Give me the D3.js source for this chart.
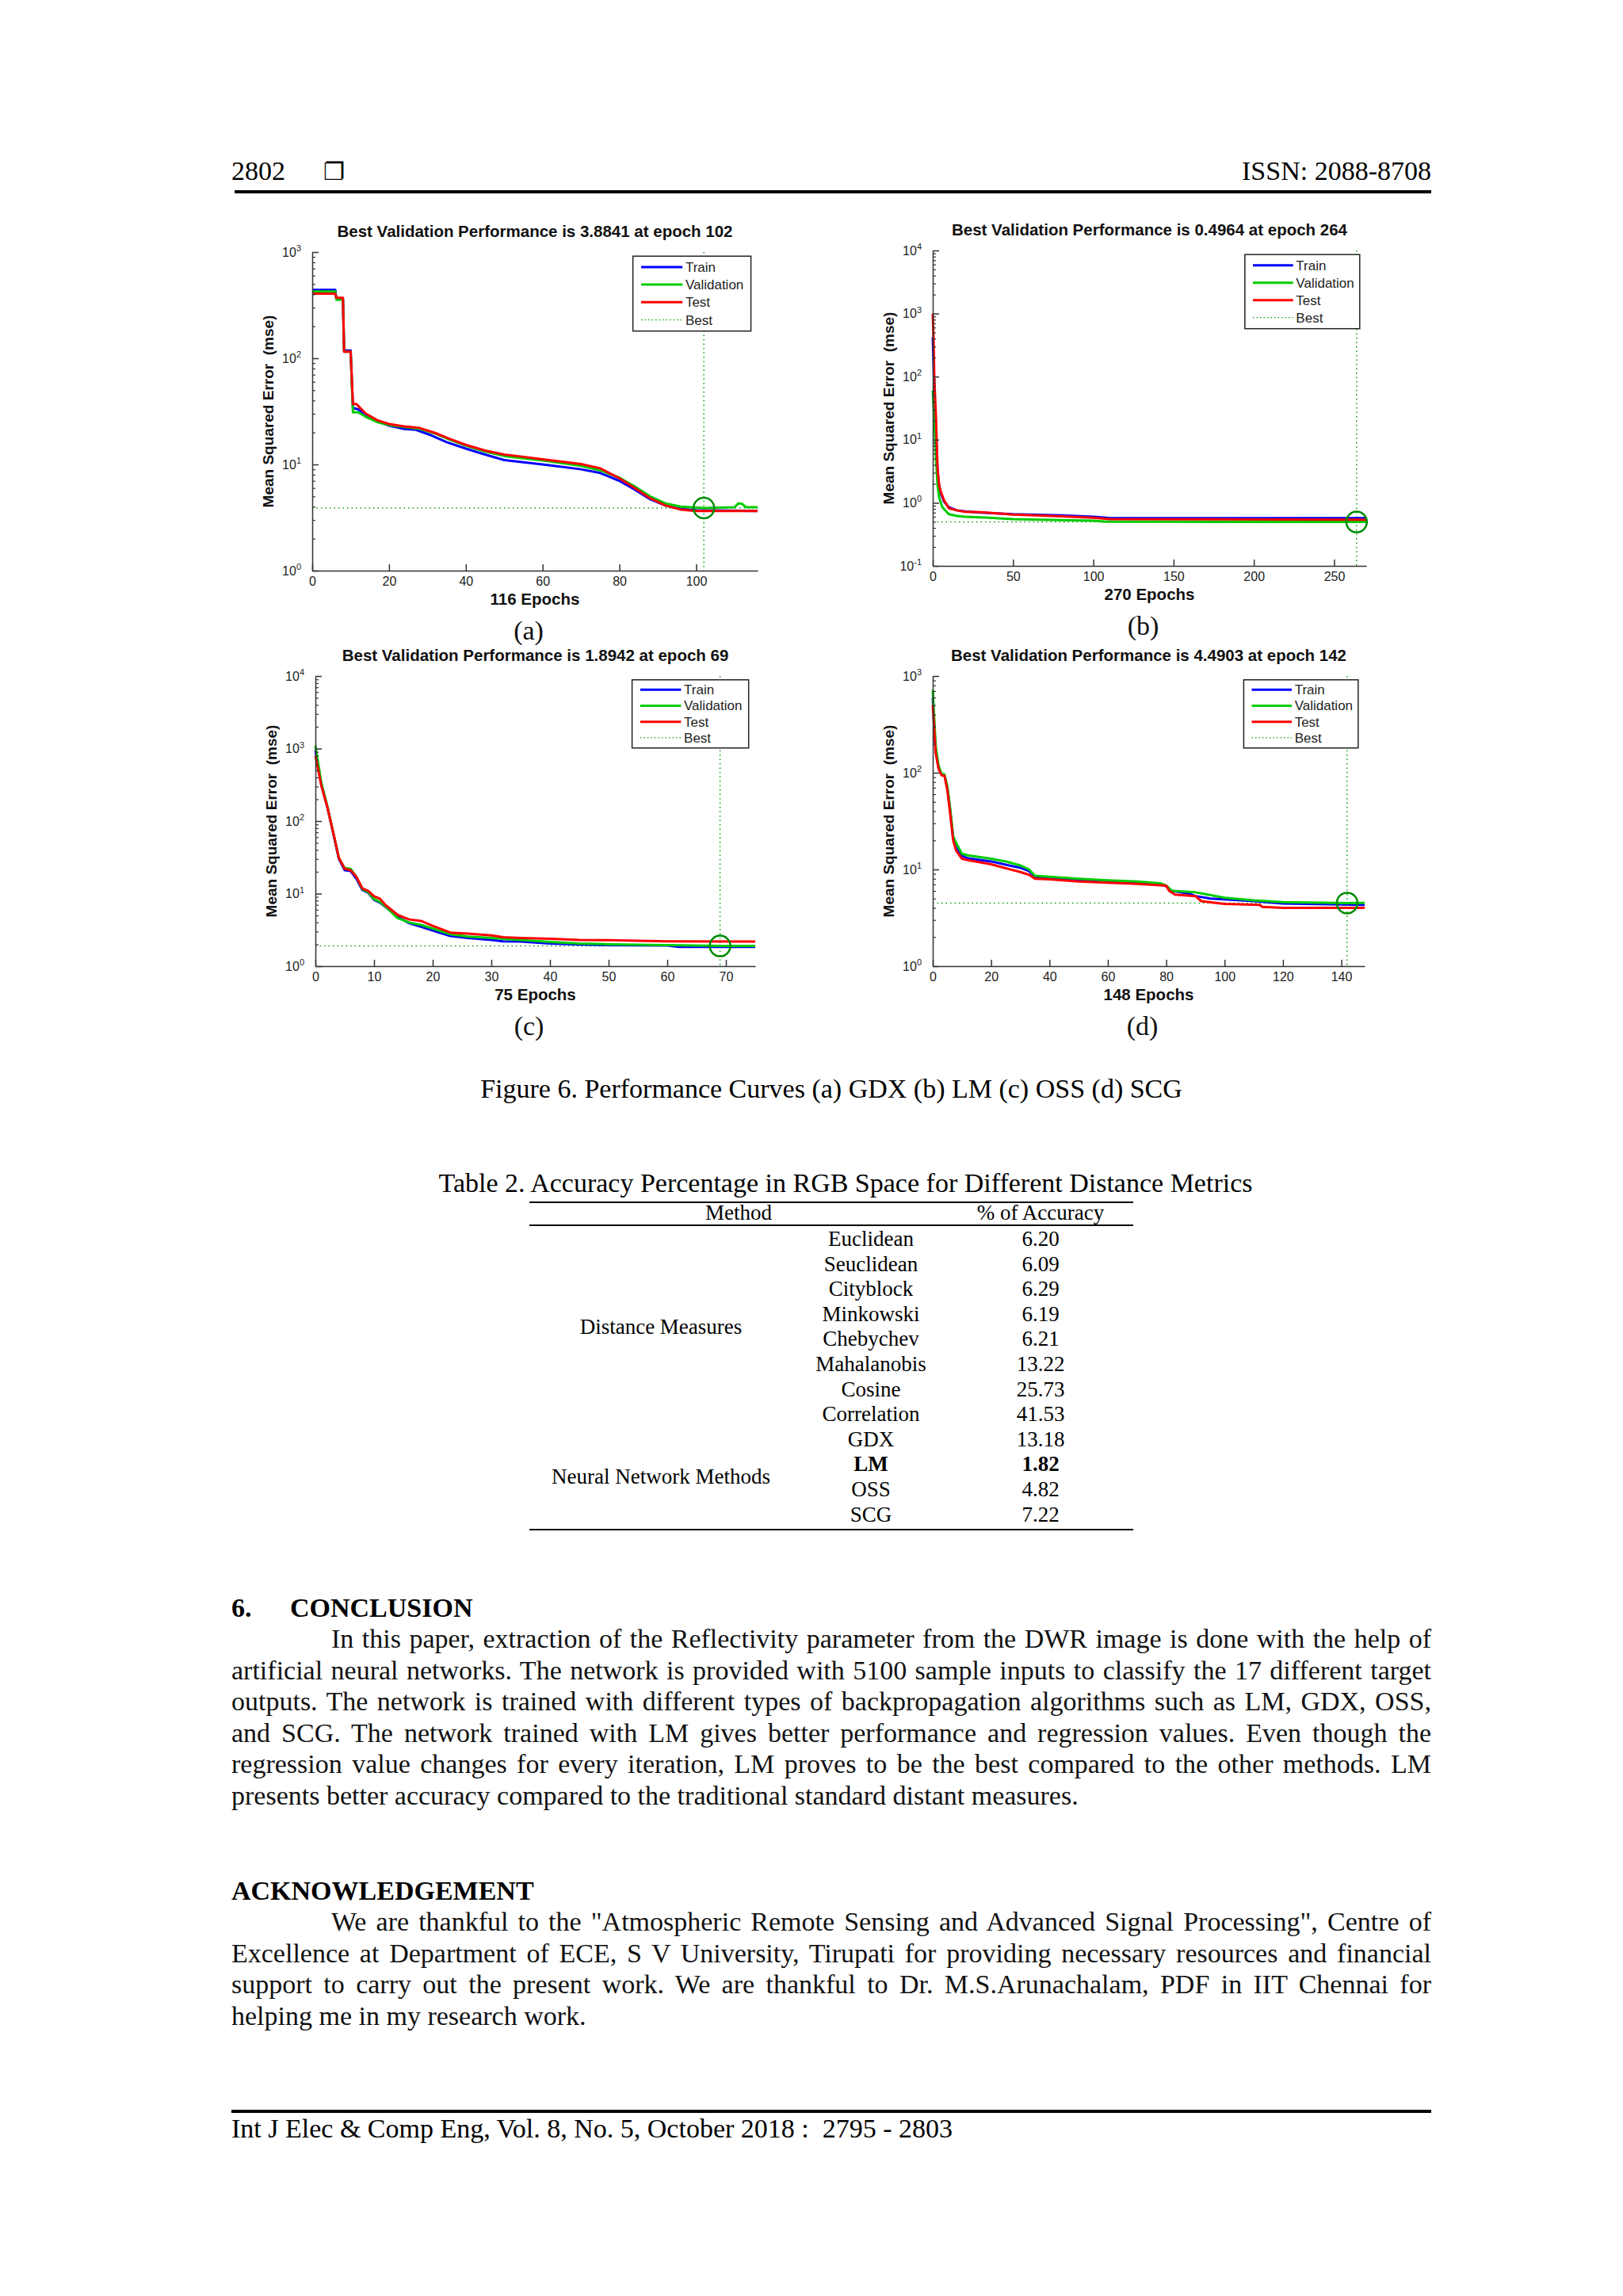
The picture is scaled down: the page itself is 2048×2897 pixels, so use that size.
<!doctype html>
<html lang="en">
<head>
<meta charset="utf-8">
<title>Figure 6 - Performance Curves</title>
<script src="https://d3js.org/d3.v7.min.js"></script>
<style>
  body { margin: 0; background: #fff; }
  #page { position: relative; width: 2048px; height: 2897px; background: #fff; overflow: hidden; }
  #page svg { position: absolute; left: 0; top: 0; }
  .line { position: absolute; font-family: 'Liberation Serif', 'Times New Roman', serif; font-size: 34px; line-height: 40px; white-space: nowrap; color: #111; }
</style>
</head>
<body>
<div id="page"></div>
<script>
// ---- data ----
// panel (a) GDX
const gdxTrain = [[0,440],[6,440],[6.3,360],[8,360],[8.3,118],[10,118],[10.6,34],[12,33],[14,29],[17,25.5],[20,23.2],[24,21.6],[27,21.2],[31,18.8],[35,16.2],[40,14.1],[45,12.4],[50,11.0],[55,10.5],[60,10.0],[65,9.5],[70,9.0],[75,8.3],[80,7.0],[84,5.8],[88,4.7],[92,4.1],[96,3.8],[100,3.7],[116,3.65]];
const gdxVal = [[0,425],[6,425],[6.3,355],[8,355],[8.3,115],[10,115],[10.6,31],[12,31],[14,28],[17,25],[20,23.5],[24,22.5],[28,21.6],[32,19.5],[36,17],[40,15],[45,13.2],[50,12.0],[55,11.4],[60,10.9],[65,10.3],[70,9.7],[75,8.8],[80,7.5],[84,6.2],[88,5.0],[92,4.3],[96,4.0],[102,3.884],[110,3.95],[111,4.3],[112,4.25],[113,3.95],[116,3.95]];
const gdxTest = [[0,405],[6,405],[6.3,370],[8,370],[8.3,115],[10,115],[10.6,37],[11.5,37],[14,30],[17,26],[20,24],[24,22.8],[28,22],[32,19.8],[36,17.3],[40,15.3],[45,13.5],[50,12.4],[55,11.8],[60,11.2],[65,10.6],[70,10.1],[75,9.2],[80,7.4],[84,6.0],[88,4.8],[92,4.1],[96,3.75],[100,3.65],[116,3.65]];
// panel (b) LM
const lmTrain = [[0,420],[1,60],[2,12],[3,3.2],[4,1.8],[5,1.4],[7,1.05],[10,0.85],[15,0.76],[20,0.73],[30,0.70],[50,0.66],[80,0.63],[100,0.6],[108,0.58],[110,0.57],[270,0.57]];
const lmVal = [[0,60],[1,20],[2,5],[3,1.9],[4,1.2],[6,0.85],[10,0.66],[15,0.62],[20,0.6],[35,0.58],[50,0.55],[80,0.53],[100,0.52],[108,0.5],[150,0.5],[264,0.4964],[270,0.4964]];
const lmTest = [[0,1000],[0.5,400],[1,90],[2,23],[3,3.5],[4,1.9],[5,1.5],[7,1.1],[10,0.82],[15,0.76],[20,0.72],[30,0.71],[50,0.65],[80,0.61],[100,0.58],[110,0.55],[270,0.54]];
// panel (c) OSS
const ossTrain = [[0,950],[1,320],[2,160],[3,70],[4,30],[5,21],[6,20.5],[7,16],[8,11.2],[9,10.3],[10,8.2],[11,7.5],[12,6.5],[14,4.8],[16,3.9],[18,3.5],[20,3.1],[23,2.6],[26,2.45],[30,2.3],[32,2.2],[35,2.18],[40,2.05],[45,1.98],[50,1.95],[60,1.92],[62,1.84],[75,1.84]];
const ossVal = [[0,1100],[1,340],[2,165],[3,72],[4,31],[5,22.5],[6,22],[7,17],[8,11.5],[9,10.5],[10,8.4],[11,7.7],[12,6.6],[14,4.6],[16,4.0],[18,3.7],[20,3.3],[23,2.75],[26,2.55],[30,2.45],[35,2.3],[40,2.15],[45,2.05],[50,2.0],[60,1.95],[69,1.894],[75,1.9]];
const ossTest = [[0,800],[1,310],[2,160],[3,72],[4,31],[5,22],[6,21],[7,17],[8,11.8],[9,10.9],[10,9.2],[11,8.5],[12,6.9],[14,5.1],[16,4.4],[18,4.2],[20,3.6],[23,2.9],[26,2.8],[30,2.65],[32,2.5],[35,2.45],[40,2.38],[45,2.3],[50,2.28],[60,2.2],[75,2.18]];
// panel (d) SCG
const scgTrain = [[0,600],[1,170],[2,112],[3,96],[4,95],[5,70],[6,40],[7,21],[8,17],[10,13.8],[12,13],[20,12.1],[25,11.2],[30,10.4],[33,9.6],[35,8.4],[40,8.1],[50,7.8],[60,7.5],[70,7.3],[78,7],[80,6.7],[82,6.0],[88,5.6],[90,5.3],[95,5.0],[100,4.9],[110,4.7],[120,4.45],[148,4.3]];
const scgVal = [[0,720],[1,190],[2,118],[3,98],[4,96],[5,72],[6,42],[7,22],[8,18.8],[10,14.5],[12,14],[20,12.9],[25,12.1],[30,11],[33,10],[35,8.6],[40,8.4],[50,8.0],[60,7.7],[70,7.5],[78,7.2],[80,6.8],[82,6.0],[90,5.8],[100,5.1],[110,4.8],[120,4.6],[142,4.49],[148,4.5]];
const scgTest = [[0,500],[1,160],[2,110],[3,94],[4,93],[5,66],[6,37],[7,20],[8,15.6],[10,12.9],[12,12.5],[20,11.3],[25,10.3],[30,9.4],[33,8.8],[35,8.0],[40,7.9],[50,7.5],[60,7.3],[70,7.1],[80,6.8],[81,6.0],[83,5.5],[90,5.3],[92,4.7],[97,4.5],[100,4.4],[112,4.3],[113,4.1],[120,4.0],[148,4.0]];

const bestEpoch = [102, 264, 69, 142];
const bestValue = [3.8841, 0.4964, 1.8942, 4.4903];
const epochCount = [116, 270, 75, 148];
const xTickSets = [[0,20,40,60,80,100],[0,50,100,150,200,250],[0,10,20,30,40,50,60,70],[0,20,40,60,80,100,120,140]];
const yDomains = [[1,1000],[0.1,10000],[1,10000],[1,1000]];
const subLabels = ["(a)", "(b)", "(c)", "(d)"];
const legendNames = ["Train", "Validation", "Test", "Best"];

// Table 2
const tableMethods = ["Euclidean","Seuclidean","Cityblock","Minkowski","Chebychev","Mahalanobis","Cosine","Correlation","GDX","LM","OSS","SCG"];
const tableAccuracy = ["6.20","6.09","6.29","6.19","6.21","13.22","25.73","41.53","13.18","1.82","4.82","7.22"];
const tableGroups = ["Distance Measures", "Neural Network Methods"];

const conclusionLines = [
  "In this paper, extraction of the Reflectivity parameter from the DWR image is done with the help of",
  "artificial neural networks. The network is provided with 5100 sample inputs to classify the 17 different target",
  "outputs. The network is trained with different types of backpropagation algorithms such as LM, GDX, OSS,",
  "and SCG. The network trained with LM gives better performance and regression values. Even though the",
  "regression value changes for every iteration, LM proves to be the best compared to the other methods. LM",
  "presents better accuracy compared to the traditional standard distant measures."
];
const ackLines = [
  "We are thankful to the \"Atmospheric Remote Sensing and Advanced Signal Processing\", Centre of",
  "Excellence at Department of ECE, S V University, Tirupati for providing necessary resources and financial",
  "support to carry out the present work. We are thankful to Dr. M.S.Arunachalam, PDF in IIT Chennai for",
  "helping me in my research work."
];

// ---- layout ----
const W = 2048, H = 2897;
const textL = 292, textR = 1806;
const serif = "'Liberation Serif', 'Times New Roman', serif";
const sans = "'Liberation Sans', Arial, Helvetica, sans-serif";
const colors = ["#0000ff", "#00cc00", "#ff0000"];
const bestColor = "#00a000";

const page = d3.select("#page");
const svg = page.append("svg").attr("width", W).attr("height", H);

// header
svg.append("text").attr("x", textL).attr("y", 227).attr("font-family", serif).attr("font-size", 34).text("2802");
svg.append("text").attr("x", 408).attr("y", 227).attr("font-family", "'DejaVu Sans', sans-serif").attr("font-size", 30).text("\u2750");
svg.append("text").attr("x", textR).attr("y", 227).attr("text-anchor", "end").attr("font-family", serif).attr("font-size", 34).text("ISSN: 2088-8708");
svg.append("line").attr("x1", 296).attr("x2", textR).attr("y1", 242).attr("y2", 242).attr("stroke", "#000").attr("stroke-width", 4);

const panels = [
  { x0: 394, y0: 318, w: 562, h: 402, series: [gdxTrain, gdxVal, gdxTest], title: "Best Validation Performance is 3.8841 at epoch 102" },
  { x0: 1177, y0: 316, w: 547, h: 398, series: [lmTrain, lmVal, lmTest], title: "Best Validation Performance is 0.4964 at epoch 264" },
  { x0: 398, y0: 853, w: 555, h: 366, series: [ossTrain, ossVal, ossTest], title: "Best Validation Performance is 1.8942 at epoch 69" },
  { x0: 1177, y0: 853, w: 545, h: 366, series: [scgTrain, scgVal, scgTest], title: "Best Validation Performance is 4.4903 at epoch 142" }
];

panels.forEach((p, i) => {
  const g = svg.append("g");
  const x = d3.scaleLinear().domain([0, epochCount[i]]).range([p.x0, p.x0 + p.w]);
  const y = d3.scaleLog().domain(yDomains[i]).range([p.y0 + p.h, p.y0]);
  const lo = Math.log10(yDomains[i][0]), hi = Math.log10(yDomains[i][1]);
  const majors = d3.range(lo, hi + 1).map(e => Math.pow(10, e));
  const minors = [];
  majors.slice(0, -1).forEach(m => { for (let k = 2; k <= 9; k++) minors.push(m * k); });

  // best lines
  g.append("line").attr("x1", x(bestEpoch[i])).attr("x2", x(bestEpoch[i]))
    .attr("y1", p.y0).attr("y2", p.y0 + p.h)
    .attr("stroke", bestColor).attr("stroke-width", 1.5).attr("stroke-dasharray", "1.5,4");
  g.append("line").attr("x1", p.x0).attr("x2", p.x0 + p.w)
    .attr("y1", y(bestValue[i])).attr("y2", y(bestValue[i]))
    .attr("stroke", bestColor).attr("stroke-width", 1.5).attr("stroke-dasharray", "1.5,4");

  // curves
  const line = d3.line().x(d => x(d[0])).y(d => y(d[1]));
  p.series.forEach((s, k) => {
    g.append("path").datum(s).attr("d", line).attr("fill", "none")
      .attr("stroke", colors[k]).attr("stroke-width", 3).attr("stroke-linejoin", "round");
  });

  // best circle
  g.append("circle").attr("cx", x(bestEpoch[i])).attr("cy", y(bestValue[i])).attr("r", 13)
    .attr("fill", "none").attr("stroke", "#008a00").attr("stroke-width", 2.5);

  // x axis
  const xAxis = g.append("g").attr("transform", `translate(0,${p.y0 + p.h})`)
    .call(d3.axisBottom(x).tickValues(xTickSets[i]).tickSizeInner(-8).tickSizeOuter(0).tickPadding(8));
  xAxis.select(".domain").attr("stroke", "#333").attr("stroke-width", 1.5);
  xAxis.selectAll(".tick line").attr("stroke", "#333").attr("stroke-width", 1.5);
  xAxis.selectAll(".tick text").attr("font-family", sans).attr("font-size", 16).attr("fill", "#222");

  // y axis
  const yAxis = g.append("g").attr("transform", `translate(${p.x0},0)`)
    .call(d3.axisLeft(y).tickValues(majors).tickSizeInner(-8).tickSizeOuter(0).tickPadding(14).tickFormat(() => "10"));
  yAxis.select(".domain").attr("stroke", "#333").attr("stroke-width", 1.5);
  yAxis.selectAll(".tick line").attr("stroke", "#333").attr("stroke-width", 1.5);
  yAxis.selectAll(".tick text").attr("font-family", sans).attr("font-size", 16).attr("fill", "#222")
    .each(function (d) {
      d3.select(this).append("tspan").attr("dy", "-0.6em").attr("font-size", 11).text(Math.round(Math.log10(d)));
    });
  const yMinor = g.append("g").attr("transform", `translate(${p.x0},0)`)
    .call(d3.axisLeft(y).tickValues(minors).tickSizeInner(-4).tickSizeOuter(0).tickFormat(() => ""));
  yMinor.select(".domain").remove();
  yMinor.selectAll(".tick line").attr("stroke", "#333").attr("stroke-width", 1.2);

  // titles and labels
  g.append("text").attr("x", p.x0 + p.w / 2).attr("y", p.y0 - 19).attr("text-anchor", "middle")
    .attr("font-family", sans).attr("font-weight", "bold").attr("font-size", 20.5).attr("fill", "#111").text(p.title);
  g.append("text").attr("x", p.x0 + p.w / 2).attr("y", p.y0 + p.h + 43).attr("text-anchor", "middle")
    .attr("font-family", sans).attr("font-weight", "bold").attr("font-size", 20.5).attr("fill", "#111").text(epochCount[i] + " Epochs");
  g.append("text").attr("transform", `translate(${p.x0 - 49},${p.y0 + p.h / 2}) rotate(-90)`).attr("text-anchor", "middle")
    .attr("font-family", sans).attr("font-weight", "bold").attr("font-size", 19).attr("fill", "#111")
    .attr("xml:space", "preserve").text("Mean Squared Error  (mse)");
  g.append("text").attr("x", p.x0 + p.w / 2 - 8).attr("y", p.y0 + p.h + 87).attr("text-anchor", "middle")
    .attr("font-family", serif).attr("font-size", 34).attr("fill", "#111").text(subLabels[i]);

  // legend
  const lx = p.x0 + 0.72 * p.w, ly = p.y0 + 0.013 * p.h, lw = 0.265 * p.w, lh = 0.235 * p.h;
  const lg = g.append("g");
  lg.append("rect").attr("x", lx).attr("y", ly).attr("width", lw).attr("height", lh)
    .attr("fill", "#fff").attr("stroke", "#222").attr("stroke-width", 1.5);
  const rows = [0.145, 0.38, 0.615, 0.85];
  legendNames.forEach((name, k) => {
    const yy = ly + rows[k] * lh;
    const ln = lg.append("line").attr("x1", lx + 0.07 * lw).attr("x2", lx + 0.42 * lw).attr("y1", yy).attr("y2", yy);
    if (k < 3) ln.attr("stroke", colors[k]).attr("stroke-width", 3);
    else ln.attr("stroke", bestColor).attr("stroke-width", 1.2).attr("stroke-dasharray", "1.5,3");
    lg.append("text").attr("x", lx + 0.445 * lw).attr("y", yy + 6).attr("font-family", sans).attr("font-size", 17)
      .attr("fill", "#222").text(name);
  });
});

// figure caption
svg.append("text").attr("x", 1049).attr("y", 1385).attr("text-anchor", "middle").attr("font-family", serif).attr("font-size", 34)
  .text("Figure 6. Performance Curves (a) GDX (b) LM (c) OSS (d) SCG");

// table
svg.append("text").attr("x", 1067).attr("y", 1504).attr("text-anchor", "middle").attr("font-family", serif).attr("font-size", 34)
  .text("Table 2. Accuracy Percentage in RGB Space for Different Distance Metrics");
const tL = 668, tR = 1430, rowY0 = 1563, rowStep = 31.6;
const tbl = svg.append("g").attr("font-family", serif).attr("font-size", 27).attr("text-anchor", "middle");
[1517, 1546, 1930].forEach(yy => tbl.append("line").attr("x1", tL).attr("x2", tR).attr("y1", yy).attr("y2", yy).attr("stroke", "#000").attr("stroke-width", 2));
tbl.append("text").attr("x", 932).attr("y", 1539).text("Method");
tbl.append("text").attr("x", 1313).attr("y", 1539).text("% of Accuracy");
tableMethods.forEach((m, k) => {
  const yy = rowY0 + 9 + k * rowStep;
  const bold = m === "LM" ? "bold" : "normal";
  tbl.append("text").attr("x", 1099).attr("y", yy).attr("font-weight", bold).text(m);
  tbl.append("text").attr("x", 1313).attr("y", yy).attr("font-weight", bold).text(tableAccuracy[k]);
});
tbl.append("text").attr("x", 834).attr("y", rowY0 + 9 + 3.5 * rowStep).text(tableGroups[0]);
tbl.append("text").attr("x", 834).attr("y", rowY0 + 9 + 9.5 * rowStep).text(tableGroups[1]);

// section headings
svg.append("text").attr("x", textL).attr("y", 2040).attr("font-family", serif).attr("font-weight", "bold").attr("font-size", 34).text("6.");
svg.append("text").attr("x", 366).attr("y", 2040).attr("font-family", serif).attr("font-weight", "bold").attr("font-size", 34).text("CONCLUSION");
svg.append("text").attr("x", textL).attr("y", 2397).attr("font-family", serif).attr("font-weight", "bold").attr("font-size", 34).text("ACKNOWLEDGEMENT");

// justified paragraph lines
function paragraph(lines, firstCenter, step) {
  lines.forEach((t, k) => {
    const left = k === 0 ? 418 : textL;
    const div = page.append("div").attr("class", "line")
      .style("left", left + "px").style("top", (firstCenter + k * step - 20) + "px");
    const span = div.append("span").text(t);
    if (k < lines.length - 1) {
      const natural = span.node().getBoundingClientRect().width;
      const spaces = (t.match(/ /g) || []).length;
      div.style("word-spacing", ((textR - left - natural) / spaces) + "px");
    }
  });
}
paragraph(conclusionLines, 2068, 39.6);
paragraph(ackLines, 2425, 39.5);

// footer
svg.append("line").attr("x1", textL).attr("x2", textR).attr("y1", 2664).attr("y2", 2664).attr("stroke", "#000").attr("stroke-width", 4);
svg.append("text").attr("x", textL).attr("y", 2697).attr("font-family", serif).attr("font-size", 34).attr("xml:space", "preserve")
  .text("Int J Elec & Comp Eng, Vol. 8, No. 5, October 2018 :  2795 - 2803");
</script>
</body>
</html>
